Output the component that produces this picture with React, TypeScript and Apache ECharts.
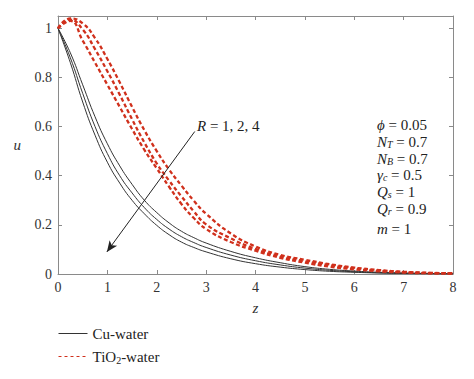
import React, { useEffect, useRef } from "react";
import * as echarts from "echarts";

const zValues = [0, 0.25, 0.5, 0.75, 1, 1.25, 1.5, 1.75, 2, 2.25, 2.5, 2.75, 3, 3.5, 4, 4.5, 5, 5.5, 6, 6.5, 7, 7.5, 8];

const cuR1 = [1, 0.9, 0.77, 0.64, 0.53, 0.44, 0.365, 0.3, 0.25, 0.208, 0.174, 0.148, 0.126, 0.092, 0.066, 0.046, 0.03, 0.019, 0.012, 0.007, 0.004, 0.002, 0.001];
const cuR2 = [1, 0.88, 0.735, 0.6, 0.49, 0.4, 0.33, 0.27, 0.222, 0.183, 0.152, 0.128, 0.108, 0.077, 0.054, 0.037, 0.024, 0.015, 0.009, 0.005, 0.003, 0.002, 0.001];
const cuR4 = [1, 0.86, 0.7, 0.565, 0.455, 0.37, 0.3, 0.245, 0.198, 0.16, 0.13, 0.108, 0.09, 0.062, 0.042, 0.028, 0.018, 0.011, 0.007, 0.004, 0.002, 0.001, 0.0005];

const tiR1 = [1, 1.04, 1.02, 0.96, 0.875, 0.78, 0.68, 0.585, 0.5, 0.425, 0.36, 0.298, 0.245, 0.165, 0.112, 0.078, 0.058, 0.04, 0.026, 0.016, 0.009, 0.005, 0.003];
const tiR2 = [1, 1.035, 0.995, 0.915, 0.825, 0.73, 0.63, 0.535, 0.45, 0.38, 0.316, 0.255, 0.202, 0.145, 0.102, 0.072, 0.052, 0.036, 0.023, 0.014, 0.008, 0.004, 0.002];
const tiR4 = [1, 1.03, 0.95, 0.86, 0.77, 0.68, 0.59, 0.505, 0.43, 0.355, 0.285, 0.228, 0.183, 0.13, 0.095, 0.066, 0.046, 0.03, 0.019, 0.011, 0.006, 0.003, 0.002];

const arrowStart = [2.77, 0.58];
const arrowEnd = [0.99, 0.09];

const paramLines = [
  "{gi|ϕ} = 0.05",
  "{i|N}{sub|T} = 0.7",
  "{i|N}{sub|B} = 0.7",
  "{gi|γ}{sub|c} = 0.5",
  "{i|Q}{sub|s} = 1",
  "{i|Q}{sub|r} = 0.9",
  "{i|m} = 1",
];
const paramY = [126, 143, 160, 176, 193, 210, 230];

const FONT = "Liberation Serif";
const CU_COLOR = "#333333";
const TI_COLOR = "#d0301c";
const FRAME = "#8a8a8a";

export default function App() {
  const ref = useRef<HTMLDivElement>(null);
  useEffect(() => {
    if (!ref.current) return;
    const chart = echarts.init(ref.current, undefined, { renderer: "svg" });
    const pairs = (arr: number[]) => zValues.map((z, i) => [z, arr[i]]);
    const cu = (arr: number[]) => ({
      type: "line",
      name: "Cu-water",
      data: pairs(arr),
      smooth: true,
      symbol: "none",
      lineStyle: { color: CU_COLOR, width: 1 },
      itemStyle: { color: CU_COLOR },
      z: 3,
    });
    const ti = (arr: number[]) => ({
      type: "line",
      name: "TiO2-water",
      data: pairs(arr),
      smooth: true,
      symbol: "none",
      lineStyle: { color: TI_COLOR, width: 2.3, type: [4, 2.5] },
      itemStyle: { color: TI_COLOR },
      z: 4,
    });
    const rich = {
      i: { fontFamily: FONT, fontStyle: "italic", fontSize: 15, color: "#222" },
      gi: { fontFamily: FONT, fontStyle: "italic", fontSize: 15, color: "#222" },
      sub: { fontFamily: FONT, fontStyle: "italic", fontSize: 10, color: "#222", verticalAlign: "bottom", padding: [6, 0, 0, 0] },
    };
    chart.setOption({
      animation: false,
      backgroundColor: "#ffffff",
      textStyle: { fontFamily: FONT },
      grid: { left: 58, right: 21, top: 16, bottom: 105 },
      legend: {
        orient: "vertical",
        left: 58,
        top: 326,
        padding: 0,
        itemWidth: 29,
        itemHeight: 14,
        itemGap: 8,
        data: [
          { name: "Cu-water", lineStyle: { color: CU_COLOR, width: 1, type: "solid" }, itemStyle: { opacity: 0 } },
          { name: "TiO2-water", lineStyle: { color: TI_COLOR, width: 1, type: [3, 3] }, itemStyle: { opacity: 0 } },
        ],
        formatter: (n: string) => (n === "TiO2-water" ? "TiO{s|2}-water" : n),
        textStyle: {
          fontFamily: FONT,
          fontSize: 15,
          color: "#222",
          rich: {
            s: { fontFamily: FONT, fontSize: 10, color: "#222", verticalAlign: "bottom", padding: [7, 0, 0, 0] },
          },
        },
      },
      xAxis: [
        {
          type: "value",
          min: 0,
          max: 8,
          interval: 1,
          position: "bottom",
          axisLine: { show: true, onZero: false, lineStyle: { color: FRAME, width: 1 } },
          axisTick: { show: true, inside: true, length: 4, lineStyle: { color: FRAME } },
          axisLabel: { color: "#333", fontSize: 14, fontFamily: FONT, margin: 6 },
          splitLine: { show: false },
          name: "z",
          nameLocation: "middle",
          nameGap: 26,
          nameTextStyle: { fontFamily: FONT, fontStyle: "italic", fontSize: 15, color: "#333" },
        },
        {
          type: "value",
          min: 0,
          max: 8,
          interval: 1,
          position: "top",
          axisLine: { show: true, onZero: false, lineStyle: { color: FRAME, width: 1 } },
          axisTick: { show: true, inside: true, length: 4, lineStyle: { color: FRAME } },
          axisLabel: { show: false },
          splitLine: { show: false },
        },
      ],
      yAxis: [
        {
          type: "value",
          min: 0,
          max: 1.05,
          interval: 0.2,
          position: "left",
          axisLine: { show: true, onZero: false, lineStyle: { color: FRAME, width: 1 } },
          axisTick: { show: true, inside: true, length: 4, lineStyle: { color: FRAME } },
          axisLabel: {
            color: "#333",
            fontSize: 14,
            fontFamily: FONT,
            margin: 6,
            formatter: (v: number) => (v > 1.001 ? "" : String(Math.round(v * 10) / 10)),
          },
          splitLine: { show: false },
          name: "u",
          nameLocation: "middle",
          nameGap: 37,
          nameRotate: 0,
          nameTextStyle: { fontFamily: FONT, fontStyle: "italic", fontSize: 15, color: "#333" },
        },
        {
          type: "value",
          min: 0,
          max: 1.05,
          interval: 0.2,
          position: "right",
          axisLine: { show: true, onZero: false, lineStyle: { color: FRAME, width: 1 } },
          axisTick: { show: true, inside: true, length: 4, lineStyle: { color: FRAME } },
          axisLabel: { show: false },
          splitLine: { show: false },
        },
      ],
      series: [
        cu(cuR1),
        cu(cuR2),
        {
          ...cu(cuR4),
          markLine: {
            silent: true,
            symbol: ["none", "arrow"],
            symbolSize: [7, 11],
            lineStyle: { color: "#222", width: 1, type: "solid" },
            label: { show: false },
            data: [[{ coord: arrowStart }, { coord: arrowEnd }]],
          },
        },
        ti(tiR1),
        ti(tiR2),
        ti(tiR4),
      ],
      graphic: [
        {
          type: "text",
          left: 197,
          top: 118,
          style: {
            text: "{i|R} = 1, 2, 4",
            fontFamily: FONT,
            fontSize: 15,
            fill: "#222",
            rich,
          },
        },
        ...paramLines.map((t, k) => ({
          type: "text",
          left: 377,
          top: paramY[k] - 9,
          style: { text: t, fontFamily: FONT, fontSize: 15, fill: "#222", rich },
        })),
      ],
    });
    return () => chart.dispose();
  }, []);
  return (
    <div
      ref={ref}
      style={{ position: "fixed", left: 0, top: 0, width: 474, height: 379, background: "#fff" }}
    />
  );
}
